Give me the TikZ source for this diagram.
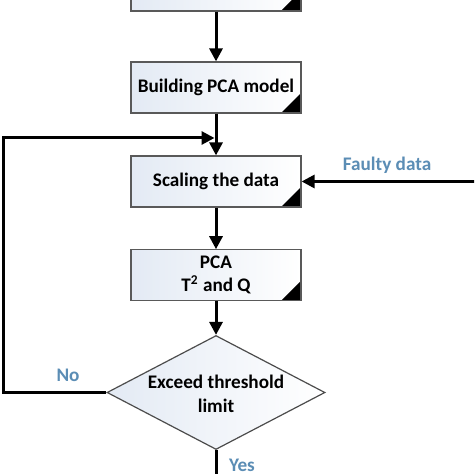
\documentclass[tikz,border=0pt]{standalone}
\usepackage{fontspec}
\setmainfont{Carlito}
\usetikzlibrary{arrows.meta,shapes.geometric}
\definecolor{lbl}{HTML}{5B8DB5}
\definecolor{boxl}{HTML}{E3EAF4}
\begin{document}
\begin{tikzpicture}[x=0.5pt,y=-0.5pt,
  font=\fontsize{9.6}{11}\selectfont\bfseries,
  stepbox/.style={draw=black!65, line width=0.6pt, left color=boxl, right color=white,
    minimum width=85pt, minimum height=25.5pt, inner sep=0pt, align=center,
    path picture={\fill[black] (path picture bounding box.south east) -- ++(-10pt,0pt) -- ++(10pt,10pt) -- cycle;}},
  decbox/.style={diamond, draw=black!70, line width=0.6pt, left color=boxl, right color=white,
    minimum width=109pt, minimum height=57pt, inner sep=0pt},
  flow/.style={line width=1.5pt, -{Triangle[length=6.5pt,width=6.5pt]}},
  plain/.style={line width=1.5pt},
  lab/.style={text=lbl, font=\fontsize{9.6}{11}\selectfont\bfseries}]
\useasboundingbox (0,0) rectangle (474,474);
\clip (0,0) rectangle (474,474);
\fill[white] (0,0) rectangle (474,474);

\node[stepbox] (top) at (216,-14.5) {};
\node[stepbox] (build) at (216,87.5) {Building PCA model};
\node[stepbox] (scale) at (216,181.5) {Scaling the data};
\node[stepbox, align=center] (pca) at (216,275.3) {PCA\\[0.5pt]T\textsuperscript{2} and Q};
\node[decbox] (dec) at (216,392.5) {};
\node[align=center] (dectext) at (216,393.5) {Exceed threshold\\[1pt]limit};

\coordinate (fbin) at (214.5,138);
\coordinate (fbleft) at (3,138);
\coordinate (fsrc) at (482,181.5);
\coordinate (yend) at (216,482);

\draw[flow] (top) -- (build);
\draw[flow] (build) -- (scale);
\draw[flow] (scale) -- (pca);
\draw[flow] (pca) -- (dec);
\draw[flow] (fsrc) -- (scale);
\draw[flow] (dec.west) -| (fbleft) -- (fbin);
\draw[plain] (dec.south) -- (yend);

\node[lab] (faulty) at (387,165) {Faulty data};
\node[lab] (no) at (68,375) {No};
\node[lab] (yes) at (242,465) {Yes};
\end{tikzpicture}
\end{document}
